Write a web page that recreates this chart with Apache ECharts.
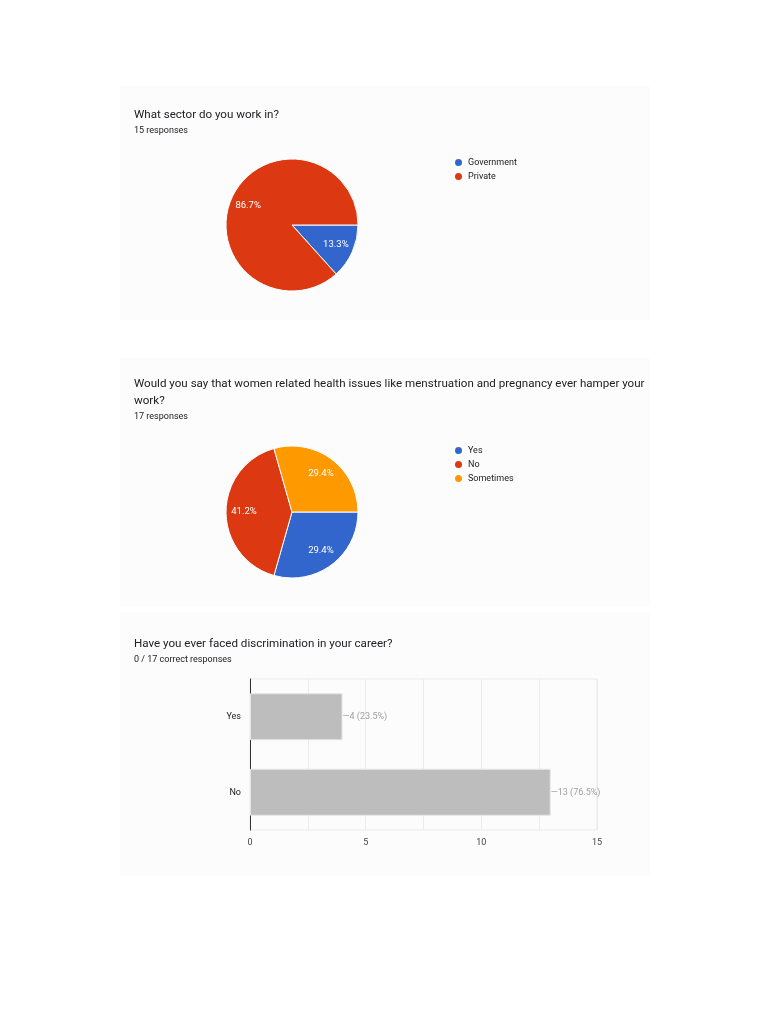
<!DOCTYPE html>
<html>
<head>
<meta charset="utf-8">
<script src="https://cdn.jsdelivr.net/npm/echarts@6/dist/echarts.min.js"></script>
<style>
  html, body { margin: 0; padding: 0; background: #fff; }
  #main { width: 768px; height: 1024px; }
</style>
</head>
<body>
<div id="main"></div>
<script>
  // chart 1 - sector
  var sectorNames = ['Government', 'Private']
  var sectorValues = [2, 13]
  // chart 2 - health issues
  var healthNames = ['Yes', 'No', 'Sometimes']
  var healthValues = [5, 7, 5]
  // chart 3 - discrimination
  var discCategories = ['Yes', 'No']
  var discValues = [4, 13]
  var discTicks = [0, 5, 10, 15]

  var blue = '#3366cc', red = '#dc3912', orange = '#ff9900'
  var font = 'Roboto, Arial, sans-serif'

  function toData(names, values) {
    return names.map(function (n, i) { return { name: n, value: values[i] } })
  }

  // slices series + a transparent series carrying the labels a bit further out
  function pieSeries(names, values, colors, center) {
    var data = toData(names, values)
    return [
      {
        type: 'pie', center: center, radius: [0, 66], startAngle: 0, clockwise: true,
        color: colors, data: data, silent: true,
        itemStyle: { borderColor: '#fff', borderWidth: 1 },
        label: { show: false }, labelLine: { show: false }
      },
      {
        type: 'pie', center: center, radius: [24, 66], startAngle: 0, clockwise: true,
        data: data, silent: true, legendHoverLink: false,
        itemStyle: { color: 'rgba(0,0,0,0)', borderWidth: 0 },
        label: {
          show: true, position: 'inside', color: '#fff', fontSize: 9.5, fontFamily: font,
          formatter: function (p) { return p.percent.toFixed(1) + '%' }
        },
        labelLine: { show: false }
      }
    ]
  }

  var discTotal = discValues.reduce(function (a, b) { return a + b }, 0)

  var titleStyle = { fontSize: 11.6, fontWeight: 'normal', color: '#202124', fontFamily: font, lineHeight: 17 }
  var subStyle = { fontSize: 9, color: '#202124', fontFamily: font }
  var legendText = { fontSize: 9, color: '#222', fontFamily: font }

  var myChart = echarts.init(document.getElementById('main'))
  var option = {
    backgroundColor: '#fff',
    animation: false,
    graphic: [
      { type: 'rect', z: -10, shape: { x: 120, y: 86, width: 530, height: 234 }, style: { fill: '#fcfcfc' } },
      { type: 'rect', z: -10, shape: { x: 120, y: 358, width: 530, height: 248 }, style: { fill: '#fcfcfc' } },
      { type: 'rect', z: -10, shape: { x: 120, y: 612, width: 530, height: 264 }, style: { fill: '#fcfcfc' } }
    ],
    title: [
      {
        text: 'What sector do you work in?', subtext: '15 responses',
        left: 129, top: 102, itemGap: 2,
        textStyle: titleStyle, subtextStyle: subStyle
      },
      {
        text: 'Would you say that women related health issues like menstruation and pregnancy ever hamper your\nwork?',
        subtext: '17 responses',
        left: 129, top: 371, itemGap: 2,
        textStyle: titleStyle, subtextStyle: subStyle
      },
      {
        text: 'Have you ever faced discrimination in your career?', subtext: '0 / 17 correct responses',
        left: 129, top: 631, itemGap: 2,
        textStyle: titleStyle, subtextStyle: subStyle
      }
    ],
    legend: [
      {
        data: sectorNames, left: 448, top: 152, orient: 'vertical', icon: 'circle',
        itemWidth: 9, itemHeight: 9, itemGap: 3,
        textStyle: legendText, selectedMode: false
      },
      {
        data: healthNames, left: 448, top: 440, orient: 'vertical', icon: 'circle',
        itemWidth: 9, itemHeight: 9, itemGap: 3,
        textStyle: legendText, selectedMode: false
      }
    ],
    grid: [{
      left: 250, top: 679, width: 347, height: 151,
      show: true, borderColor: '#ebebeb', borderWidth: 1, backgroundColor: 'transparent'
    }],
    xAxis: [{
      type: 'value', min: 0, max: 15, interval: 2.5, gridIndex: 0,
      axisLine: { show: false }, axisTick: { show: false },
      splitLine: { lineStyle: { color: '#ebebeb' } },
      axisLabel: {
        fontSize: 9, color: '#444', fontFamily: font, margin: 8,
        formatter: function (v) { return discTicks.indexOf(v) >= 0 ? String(v) : '' }
      }
    }],
    yAxis: [{
      type: 'category', data: discCategories, inverse: true, gridIndex: 0,
      axisLine: { lineStyle: { color: '#333', width: 1 } }, axisTick: { show: false },
      axisLabel: { fontSize: 9, color: '#222', fontFamily: font, margin: 9 }
    }],
    series: [].concat(
      pieSeries(sectorNames, sectorValues, [blue, red], [292, 225]),
      pieSeries(healthNames, healthValues, [blue, red, orange], [292, 512]),
      [{
        type: 'bar', xAxisIndex: 0, yAxisIndex: 0, data: discValues,
        barWidth: 47, silent: true,
        itemStyle: { color: '#bdbdbd', borderColor: '#e6e6e6', borderWidth: 1 },
        label: {
          show: true, position: 'right', distance: 0, color: '#9e9e9e', fontSize: 9, fontFamily: font,
          formatter: function (p) {
            return '\u2014' + p.value + ' (' + (p.value / discTotal * 100).toFixed(1) + '%)'
          }
        }
      }]
    )
  }
  option && myChart.setOption(option)
</script>
</body>
</html>
